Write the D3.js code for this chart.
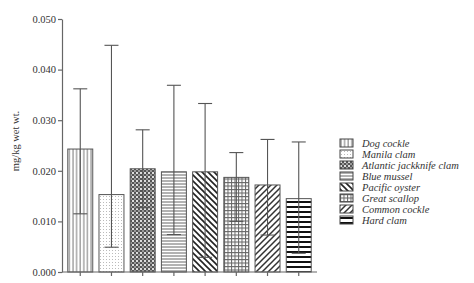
<!DOCTYPE html>
<html><head><meta charset="utf-8">
<script src="https://cdn.jsdelivr.net/npm/d3@7"></script>
<style>
html,body{margin:0;padding:0;background:#fff;}
svg{display:block;}
</style></head>
<body>
<script>
const categories = ["Dog cockle","Manila clam","Atlantic jackknife clam","Blue mussel","Pacific oyster","Great scallop","Common cockle","Hard clam"];
const means = [0.0243,0.0153,0.0204,0.0198,0.0198,0.0187,0.0172,0.0145];
const upper = [0.0362,0.0448,0.0281,0.0369,0.0333,0.0236,0.0262,0.0257];
const lower = [0.0115,0.0049,0.0127,0.0074,0.0029,0.0100,0.0073,0.0037];
const yTicks = [0,0.01,0.02,0.03,0.04,0.05];
const patternIds = ["p-vert","p-dots","p-check","p-hor","p-diagback","p-grid","p-diagfwd","p-thick"];

const W=474,H=283;
const svg=d3.select("body").append("svg").attr("width",W).attr("height",H);
const defs=svg.append("defs");

function pat(id,w,h,draw){
  const p=defs.append("pattern").attr("id",id).attr("patternUnits","userSpaceOnUse").attr("width",w).attr("height",h);
  p.append("rect").attr("width",w).attr("height",h).attr("fill","#fff");
  draw(p);
}
pat("p-vert",3.6,4,p=>p.append("line").attr("x1",1).attr("x2",1).attr("y1",0).attr("y2",4).attr("stroke","#777").attr("stroke-width",1));
pat("p-dots",3,3,p=>p.append("rect").attr("x",1).attr("y",1).attr("width",1).attr("height",1).attr("fill","#bbb"));
pat("p-check",4,4,p=>{
  p.select("rect").attr("fill","#555");
  p.append("rect").attr("x",0).attr("y",0).attr("width",2).attr("height",2).attr("fill","#ddd");
  p.append("rect").attr("x",2).attr("y",2).attr("width",2).attr("height",2).attr("fill","#999");
});
pat("p-hor",4,3,p=>p.append("line").attr("x1",0).attr("x2",4).attr("y1",1).attr("y2",1).attr("stroke","#666").attr("stroke-width",1));
pat("p-diagback",6,6,p=>{
  p.append("path").attr("d","M0,0 L6,6 M-3,3 L3,9 M3,-3 L9,3").attr("stroke","#222").attr("stroke-width",1.6);
});
pat("p-grid",3.5,3.5,p=>{
  p.append("path").attr("d","M0.5,0 V3.5 M0,0.5 H3.5").attr("stroke","#666").attr("stroke-width",1);
});
pat("p-diagfwd",6,6,p=>{
  p.append("path").attr("d","M0,6 L6,0 M-3,3 L3,-3 M3,9 L9,3").attr("stroke","#333").attr("stroke-width",1.5);
});
pat("p-thick",4,5,p=>p.append("line").attr("x1",0).attr("x2",4).attr("y1",2).attr("y2",2).attr("stroke","#111").attr("stroke-width",2));

const x=d3.scaleBand().domain(categories).range([62,317]).paddingInner(0.2).paddingOuter(0.185);
const y=d3.scaleLinear().domain([0,0.05]).range([272,19]);

const data=categories.map((c,i)=>({c,m:means[i],u:upper[i],l:lower[i],p:patternIds[i]}));

// bars
svg.append("g").selectAll("rect").data(data).join("rect")
  .attr("x",d=>x(d.c)).attr("y",d=>y(d.m))
  .attr("width",x.bandwidth()).attr("height",d=>y(0)-y(d.m))
  .attr("fill",d=>`url(#${d.p})`).attr("stroke","#555").attr("stroke-width",1);

// error bars
const eb=svg.append("g").attr("stroke","#555").attr("stroke-width",1.1);
data.forEach(d=>{
  const cx=x(d.c)+x.bandwidth()/2;
  eb.append("line").attr("x1",cx).attr("x2",cx).attr("y1",y(d.u)).attr("y2",y(d.l));
  eb.append("line").attr("x1",cx-7).attr("x2",cx+7).attr("y1",y(d.u)).attr("y2",y(d.u));
  eb.append("line").attr("x1",cx-7).attr("x2",cx+7).attr("y1",y(d.l)).attr("y2",y(d.l));
});

// axes
const yAxis=svg.append("g").attr("transform","translate(62,0)")
  .call(d3.axisLeft(y).tickValues(yTicks).tickFormat(d3.format(".3f")).tickSize(4).tickSizeOuter(0));
const xAxis=svg.append("g").attr("transform","translate(0,272)")
  .call(d3.axisBottom(x).tickSize(4).tickSizeOuter(0).tickFormat(""));
xAxis.select(".domain").attr("d","M62,0H317");
[yAxis,xAxis].forEach(a=>{
  a.selectAll(".domain,line").attr("stroke","#666").attr("stroke-width",1.2);
  a.selectAll("text").attr("font-family","Liberation Serif").attr("font-size",10.5).attr("fill","#333");
});
yAxis.selectAll("text").attr("x",-6);

svg.append("text").attr("transform","translate(19,141) rotate(-90)")
  .attr("text-anchor","middle").attr("font-family","Liberation Serif").attr("font-size",10.5).attr("fill","#333")
  .text("mg/kg wet wt.");

// legend
const lg=svg.append("g").selectAll("g").data(data).join("g")
  .attr("transform",(d,i)=>`translate(340,${139+i*11})`);
lg.append("rect").attr("x",0).attr("y",0).attr("width",13).attr("height",8)
  .attr("fill",d=>`url(#${d.p})`).attr("stroke","#444").attr("stroke-width",1);
lg.append("text").attr("x",22).attr("y",7.5).attr("font-family","Liberation Serif").attr("font-style","italic")
  .attr("font-size",10.5).attr("fill","#333").text(d=>d.c);
</script>
</body></html>
